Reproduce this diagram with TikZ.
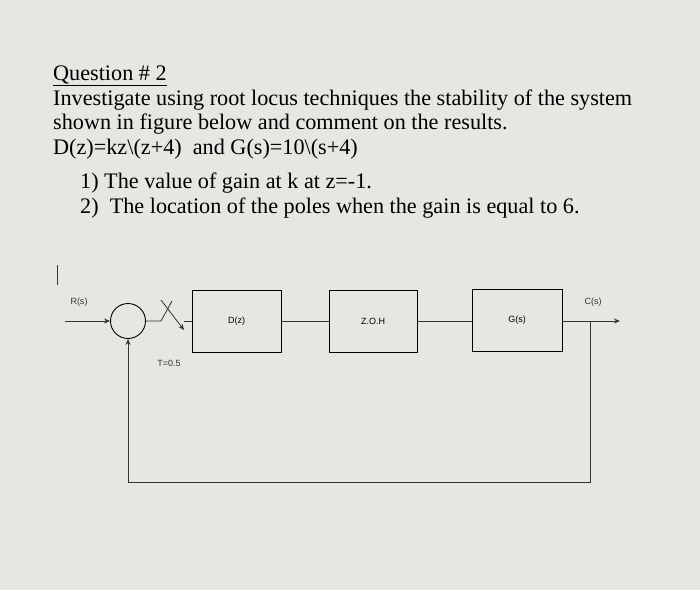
\documentclass[tikz,border=0pt]{standalone}
\usepackage{fontspec}
\setmainfont{Liberation Serif}
\newfontfamily\lbl{Liberation Sans}
\usetikzlibrary{arrows.meta}
\definecolor{bg}{HTML}{E6E6E3}
\begin{document}
\begin{tikzpicture}[x=1pt,y=-1pt,
  blk/.style={draw, line width=0.9pt, minimum height=62pt, font=\lbl\fontsize{9}{10}\selectfont},
  ln/.style={line width=0.8pt, draw=black!80},
  arr/.style={ln,-{Stealth[length=6pt,width=5pt]}},
  lab/.style={font=\lbl\fontsize{9}{10}\selectfont, text=black!80},
  txt/.style={anchor=base west, inner sep=0pt, font=\fontsize{22.2}{24}\selectfont}]
\fill[bg] (0,0) rectangle (700,590);
\useasboundingbox (0,0) rectangle (700,590);
\node[txt] (q) at (53,80) {\underline{Question \# 2}};
\node[txt] (l1) at (53,105) {Investigate using root locus techniques the stability of the system};
\node[txt] (l2) at (53,129) {shown in figure below and comment on the results.};
\node[txt] (l3) at (53,154) {D(z)=kz\textbackslash(z+4)\ \ and G(s)=10\textbackslash(s+4)};
\node[txt] (i1) at (80,188) {1)\ The value of gain at k at z=-1.};
\node[txt] (i2) at (80,213) {2)\ \ The location of the poles when the gain is equal to 6.};
\draw[ln] (57,265) -- (57,285);
\node[draw, circle, line width=0.9pt, minimum size=35pt, inner sep=0pt] (sum) at (128,321) {};
\node[blk, minimum width=89pt] (D) at (236.5,321) {D(z)};
\node[blk, minimum width=88pt] (Z) at (373,321) {Z.O.H};
\node[blk, minimum width=90pt] (G) at (517,320) {G(s)};
\coordinate (in) at (65,321);
\coordinate (s1) at (161,321);
\coordinate (s4) at (172,301);
\coordinate (s2) at (184,330);
\coordinate (s3) at (184,321);
\coordinate (x1) at (161,300);
\coordinate (out) at (620,321);
\coordinate (tap) at (590,321);
\coordinate (b1) at (590,482);
\coordinate (b2) at (128,482);
\draw[arr] (in) -- (sum.west);
\draw[ln] (sum.east) -- (s1) -- (s4);
\draw[arr] (x1) -- (s2);
\draw[ln] (s3) -- (D.west);
\draw[ln] (D.east) -- (Z.west);
\draw[ln] (Z.east) -- (G.west|-Z.east);
\draw[arr] (G.east|-out) -- (out);
\draw[arr] (tap) -- (b1) -- (b2) -- (sum.south);
\node[lab] (R) at (79,302) {R(s)};
\node[lab] (C) at (593,302) {C(s)};
\node[lab] (T) at (169,363) {T=0.5};
\end{tikzpicture}
\end{document}
